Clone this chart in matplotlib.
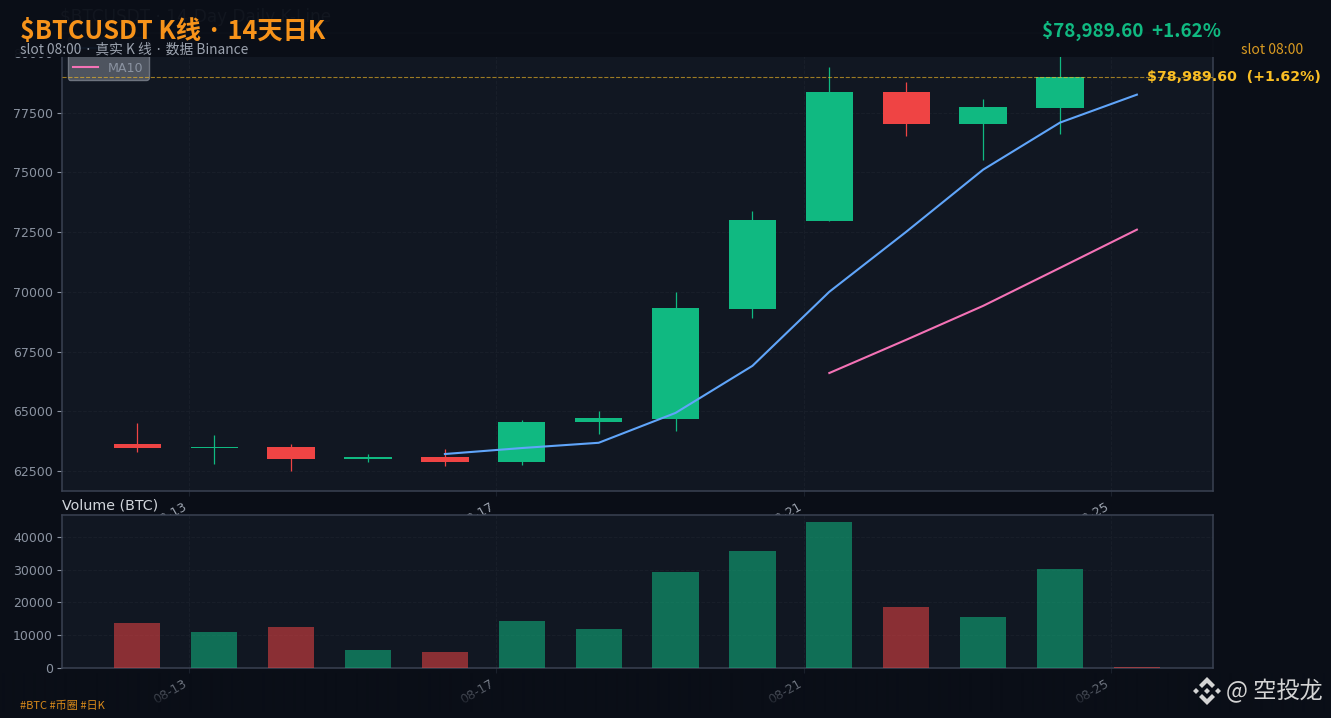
import numpy as np
import matplotlib
matplotlib.use("Agg")
import matplotlib.pyplot as plt
from matplotlib.patches import Polygon, Rectangle

CJK = ['Noto Sans CJK JP', 'DejaVu Sans']

dates = ['08-12','08-13','08-14','08-15','08-16','08-17','08-18','08-19','08-20','08-21','08-22','08-23','08-24','08-25']
opens = [63630,63480,63500,63020,63090,62880,64530,64680,69290,72970,78340,77030,77710,78995]
closes = [63460,63495,63000,63080,62880,64550,64720,69330,73010,78340,77030,77750,79000,78989.6]
highs = [64510,64000,63630,63220,63420,64640,65030,70000,73400,79400,78800,78050,79850,79000]
lows = [63300,62790,62500,62880,62700,62750,64040,64170,68900,72970,76500,75500,76600,78980]
volumes = [13700,11000,12400,5500,4900,14300,11800,29300,35800,44500,18500,15500,30200,300]
ma5 = [63210,63460,63680,64930,66900,70000,72510,75110,77080,78250]
ma10 = [66600,67990,69410,71000,72600]
price_ticks = [62500,65000,67500,70000,72500,75000,77500,80000]
vol_ticks = [0,10000,20000,30000,40000]
tick_dates = ['08-13','08-17','08-21','08-25']
tick_days = [1,5,9,13]
slot_offset = 1/3   # candles open at 08:00, date ticks sit at 00:00
last_price = 78989.6

W, H = 1331, 718
BG = '#0a0e17'; AXBG = '#111722'; SPINE = '#3a4252'; GRID = '#191f2a'
UP = '#10b981'; DOWN = '#ef4444'; TICK = '#8b93a1'; LABEL = '#d1d5db'

fig = plt.figure(figsize=(W/100, H/100), dpi=100, facecolor=BG)
def axrect(x0, y0, x1, y1):
    return [x0/W, 1-y1/H, (x1-x0)/W, (y1-y0)/H]

ax = fig.add_axes(axrect(62, 33, 1213, 491), facecolor=AXBG)
vx = fig.add_axes(axrect(62, 515, 1213, 668), facecolor=AXBG)

x = np.arange(len(dates))
tx = np.array(tick_days) - slot_offset
for i in x:
    c = UP if closes[i] >= opens[i] else DOWN
    ax.plot([i, i], [lows[i], highs[i]], color=c, lw=0.9, zorder=3, solid_capstyle='butt')
    lo, hi = sorted((opens[i], closes[i]))
    ax.bar(i, max(hi-lo, 12), bottom=lo, width=0.615, color=c, zorder=4, linewidth=0)
ax.plot(x[4:], ma5, color='#60a5fa', lw=1.5, label='MA5', zorder=5)
ax.plot(x[9:], ma10, color='#f472b6', lw=1.5, label='MA10', zorder=5)
ax.axhline(last_price, color='#fbbf24', lw=0.8, ls='--', alpha=0.6, zorder=6)
ax.set_xlim(-0.98, 13.99)
ax.set_ylim(61662, 80830)
ax.set_yticks(price_ticks)
ax.set_xticks(tx)
ax.set_xticklabels(tick_dates, rotation=30, ha='right')
leg = ax.legend(loc='upper left', fontsize=9.1, facecolor='#5a606b', edgecolor='#7a808b',
                labelcolor='#8b93a1', framealpha=0.85, bbox_to_anchor=(0.0015, 0.999), borderaxespad=0.3)

cols = [UP if closes[i] >= opens[i] else DOWN for i in x]
vx.bar(x, volumes, width=0.6, color=cols, alpha=0.55, zorder=3, linewidth=0)
vx.set_xlim(-0.98, 13.99)
vx.set_ylim(0, 46700)
vx.set_yticks(vol_ticks)
vx.set_xticks(tx)
vx.set_xticklabels(tick_dates, rotation=30, ha='right')
vx.set_title('Volume (BTC)', loc='left', color=LABEL, fontsize=10.3, pad=4)

for a in (ax, vx):
    a.grid(True, color=GRID, lw=0.7, ls='--')
    a.set_axisbelow(True)
    for s in a.spines.values():
        s.set_color(SPINE); s.set_linewidth(1.1)
    a.tick_params(axis='y', colors=TICK, labelsize=9, length=3.5, width=0.8, pad=3)
    a.tick_params(axis='x', color='#1a202b', labelcolor='#9ca3af', labelsize=9, length=3.5, width=0.8, pad=3)

# faint original title beneath the banner
fig.text(196/W, 1-17/H, '$BTCUSDT · 14-Day Daily K-Line', ha='center', va='center',
         color='#9ca3af', fontsize=12.2, family='DejaVu Sans', zorder=1)

# banner and bottom fade overlays
ov = fig.add_axes([0, 0, 1, 1], zorder=20)
ov.set_xlim(0, W); ov.set_ylim(H, 0); ov.axis('off'); ov.patch.set_alpha(0)
ov.add_patch(Rectangle((0, 0), W, 57, color='#0a0e17', alpha=0.95, lw=0))
g = np.zeros((40, 2, 4))
g[..., :3] = matplotlib.colors.to_rgb('#0a0e17')
g[..., 3] = np.clip(np.linspace(0, 1.1, 40), 0, 1)[:, None]
ov.imshow(g, extent=(0, W, 712, 672), aspect='auto', zorder=1, interpolation='bilinear')
ov.add_patch(Rectangle((0, 712), W, 6, color='#0a0e17', lw=0, zorder=1))
ov.set_xlim(0, W); ov.set_ylim(H, 0)

ov.text(20, 32, '$BTCUSDT K线 · 14天日K', color='#f7931a', fontsize=18.2, fontweight='bold',
        family=CJK, va='center', ha='left', zorder=5)
ov.text(20, 50, 'slot 08:00 · 真实 K 线 · 数据 Binance', color='#9ca3af', fontsize=9.9,
        family=CJK, va='center', ha='left', zorder=5)
ov.text(1221, 30.5, '$78,989.60  +1.62%', color=UP, fontsize=13.6, fontweight='bold',
        family=CJK, va='center', ha='right', zorder=5)
ov.text(1303, 50, 'slot 08:00', color='#d99a22', fontsize=10,
        family=CJK, va='center', ha='right', zorder=5)
ov.text(1147, 77, f'${last_price:,.2f}  (+1.62%)', color='#fbbf24', fontsize=10.2, fontweight='bold',
        family='DejaVu Sans', va='center', ha='left', zorder=5)
ov.text(20, 706, '#BTC #币圈 #日K', color='#d98a1a', fontsize=8.0, family=CJK, va='center', ha='left', zorder=5)
ov.text(1226, 691, '@ 空投龙', color='#d4d4d4', fontsize=16.7, family=CJK, va='center', ha='left', zorder=5)

# Binance-style mark
cx, cy = 1207, 691
def diamond(x0, y0, r):
    ov.add_patch(Polygon([(x0, y0-r), (x0+r, y0), (x0, y0+r), (x0-r, y0)], color='#d4d4d4', lw=0, zorder=5))
diamond(cx, cy, 3); diamond(cx-11, cy, 3); diamond(cx+11, cy, 3)
ov.add_patch(Polygon([(cx, cy-14), (cx+8, cy-6), (cx+5, cy-3), (cx, cy-8), (cx-5, cy-3), (cx-8, cy-6)], color='#d4d4d4', lw=0, zorder=5))
ov.add_patch(Polygon([(cx, cy+14), (cx+8, cy+6), (cx+5, cy+3), (cx, cy+8), (cx-5, cy+3), (cx-8, cy+6)], color='#d4d4d4', lw=0, zorder=5))

fig.savefig('out.png', dpi=100, facecolor=BG)
